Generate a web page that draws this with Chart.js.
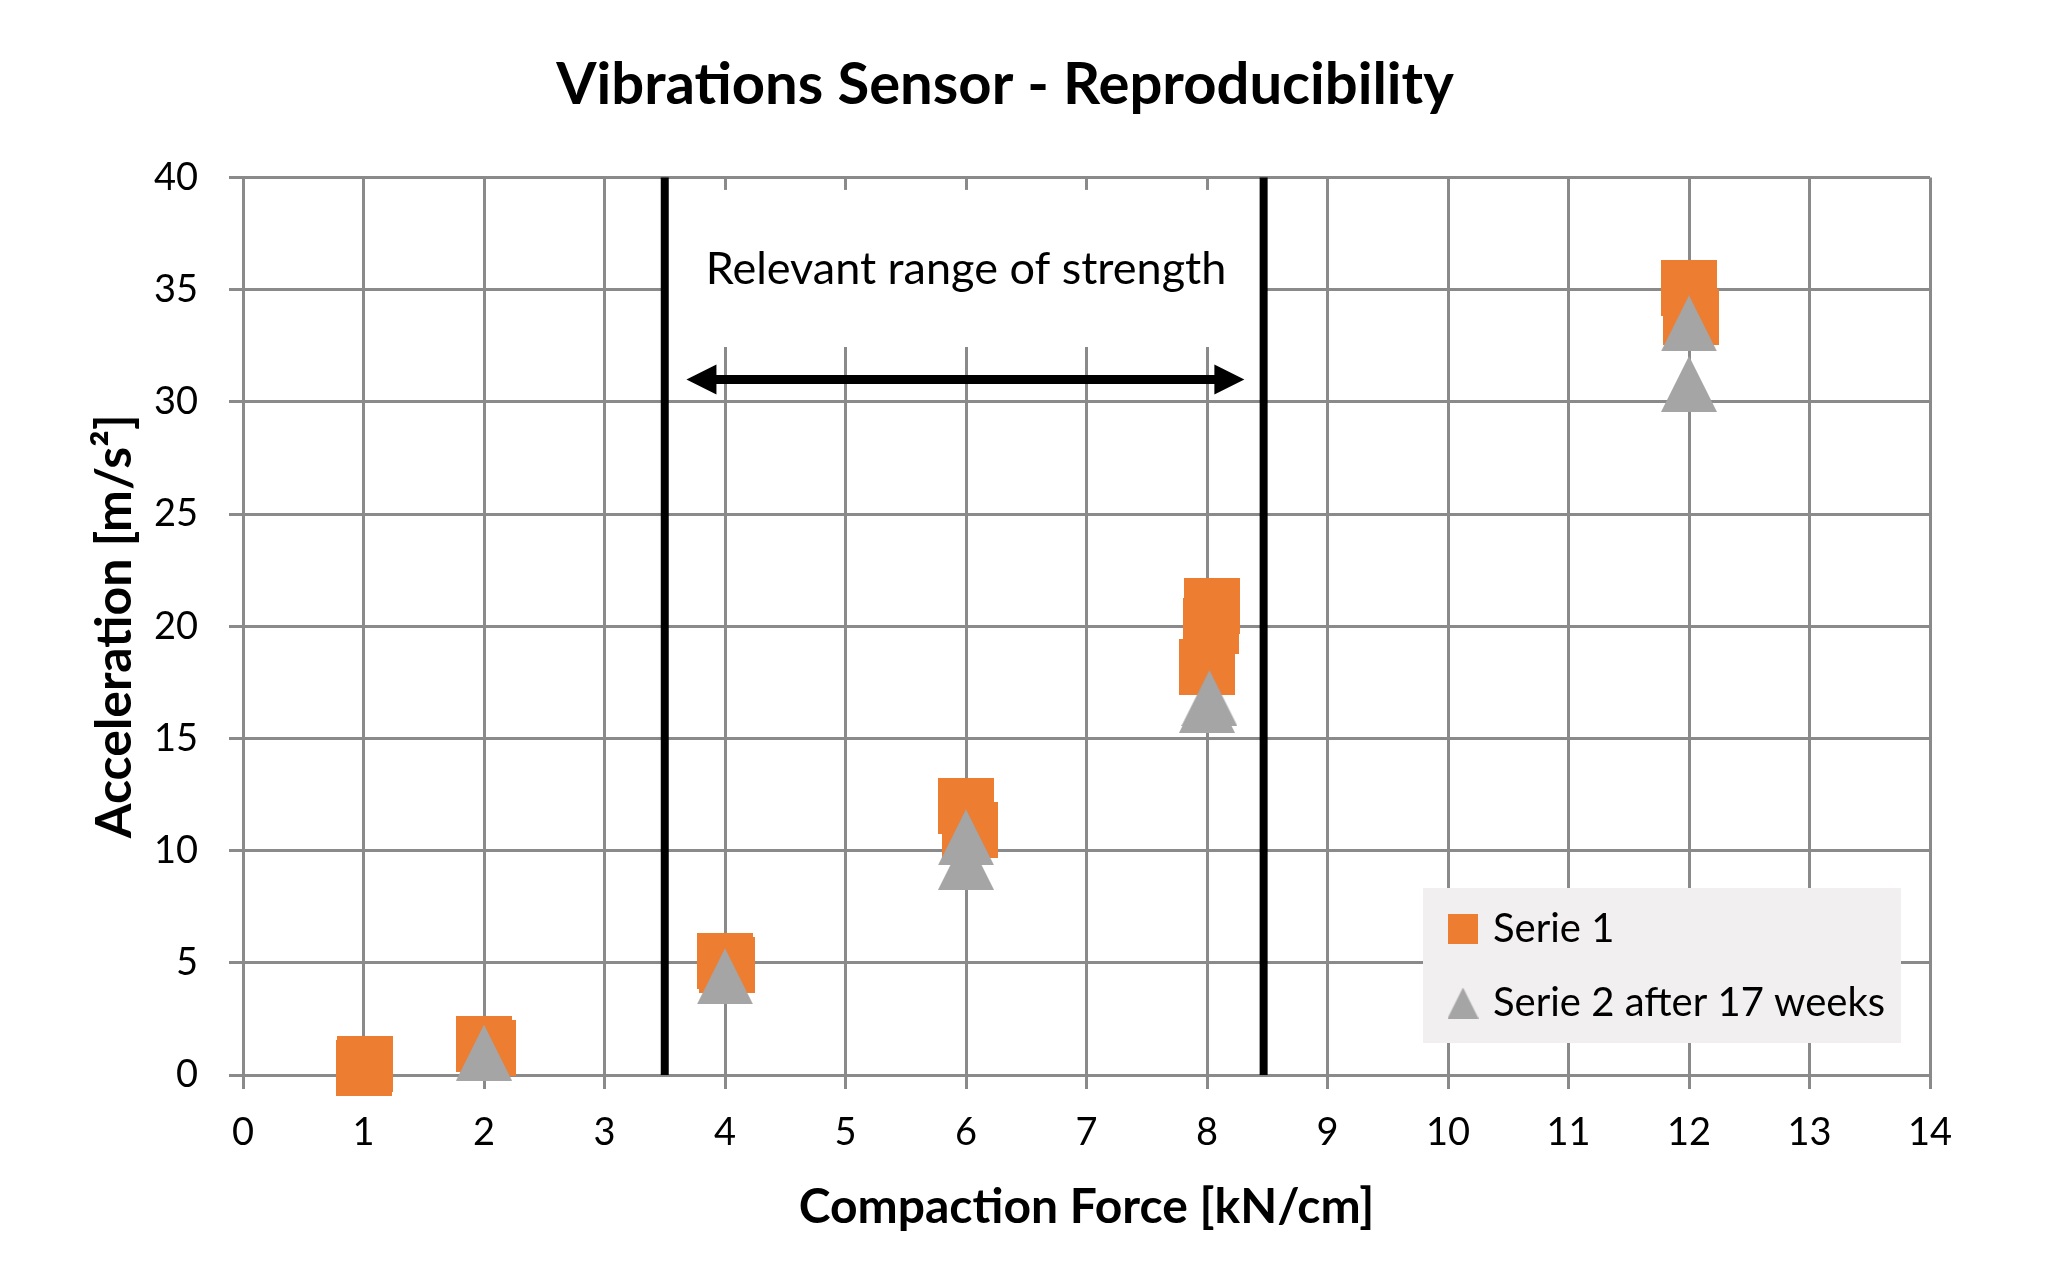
<!DOCTYPE html>
<html>
<head>
<meta charset="utf-8">
<script src="https://cdn.jsdelivr.net/npm/chart.js@4.4.1/dist/chart.umd.min.js"></script>
<style>
html, body { margin: 0; padding: 0; background: #fff; }
#wrap { width: 2048px; height: 1283px; }
</style>
</head>
<body>
<div id="wrap"><canvas id="chart" width="2048" height="1283"></canvas></div>
<script>
// Данные ---------------------------------------------------------------------------------------------------------------
var serie1X = [1, 1.01, 2, 2.03, 4, 4.02, 6, 6.03, 8.04, 8.03, 8.0, 12, 12.02];
var serie1Y = [0.3, 0.5, 1.4, 1.2, 5.1, 4.9, 12.0, 10.9, 20.9, 20.0, 18.2, 35.1, 33.8];
var serie2X = [2, 4, 6, 6, 8.02, 8.0, 12, 12];
var serie2Y = [1.0, 4.4, 10.6, 9.5, 16.8, 16.5, 33.5, 30.8];
var seriesNames = ['Serie 1', 'Serie 2 after 17 weeks'];
var xTicks = [0, 1, 2, 3, 4, 5, 6, 7, 8, 9, 10, 11, 12, 13, 14];
var yTicks = [0, 5, 10, 15, 20, 25, 30, 35, 40];

// Область "Relevant range of strength"
var rangeBounds = [3.5, 8.47];
var arrowX = [3.68, 8.31];
var arrowY = [31];
var rangeLabel = 'Relevant range of strength';
var rangeLabelPos = [6, 35.9];
var rangeLabelBox = [32.45, 39.45];

var ORANGE = '#ED7D31';
var GREY = '#A5A5A5';
var GRID = '#8a8a8a';
var FONT = 'Lato';

// Маркеры как в Excel --------------------------------------------------------------------------------------------------
function squareMarker(size, color) {
    var c = document.createElement('canvas');
    c.width = size; c.height = size;
    var g = c.getContext('2d');
    g.fillStyle = color;
    g.fillRect(0, 0, size, size);
    return c;
}
function triangleMarker(w, h, color) {
    var c = document.createElement('canvas');
    c.width = w; c.height = h;
    var g = c.getContext('2d');
    g.fillStyle = color;
    g.beginPath();
    g.moveTo(w / 2, 0);
    g.lineTo(w, h);
    g.lineTo(0, h);
    g.closePath();
    g.fill();
    return c;
}
var sq = squareMarker(56, ORANGE);
var tri = triangleMarker(56, 56, GREY);
var sqSmall = squareMarker(30, ORANGE);
var triSmall = triangleMarker(31, 31, GREY);

function toPoints(xs, ys) {
    return xs.map(function (x, i) { return {x: x, y: ys[i]}; });
}

// Подпись, стрелка, вертикальные линии ---------------------------------------------------------------------------------
var rangePlugin = {
    id: 'range',
    beforeDatasetsDraw: function (chart) {
        var ctx = chart.ctx, xs = chart.scales.x, ys = chart.scales.y;
        var x1 = xs.getPixelForValue(rangeBounds[0]);
        var x2 = xs.getPixelForValue(rangeBounds[1]);
        ctx.save();
        // белый фон под подписью
        ctx.fillStyle = '#fff';
        var bt = ys.getPixelForValue(rangeLabelBox[1]);
        var bb = ys.getPixelForValue(rangeLabelBox[0]);
        ctx.fillRect(x1, bt, x2 - x1, bb - bt);
        // вертикальные линии
        ctx.strokeStyle = '#000';
        ctx.lineWidth = 8;
        [x1, x2].forEach(function (px) {
            ctx.beginPath();
            ctx.moveTo(px, ys.getPixelForValue(yTicks[0]));
            ctx.lineTo(px, ys.getPixelForValue(yTicks[yTicks.length - 1]));
            ctx.stroke();
        });
        // стрелка
        var ax1 = xs.getPixelForValue(arrowX[0]);
        var ax2 = xs.getPixelForValue(arrowX[1]);
        var ay = ys.getPixelForValue(arrowY[0]);
        var head = 30;
        ctx.lineWidth = 9;
        ctx.beginPath();
        ctx.moveTo(ax1 + head - 2, ay);
        ctx.lineTo(ax2 - head + 2, ay);
        ctx.stroke();
        ctx.fillStyle = '#000';
        ctx.beginPath();
        ctx.moveTo(ax1, ay);
        ctx.lineTo(ax1 + head, ay - head / 2);
        ctx.lineTo(ax1 + head, ay + head / 2);
        ctx.closePath();
        ctx.fill();
        ctx.beginPath();
        ctx.moveTo(ax2, ay);
        ctx.lineTo(ax2 - head, ay - head / 2);
        ctx.lineTo(ax2 - head, ay + head / 2);
        ctx.closePath();
        ctx.fill();
        // текст
        ctx.font = '45px ' + FONT;
        ctx.textAlign = 'center';
        ctx.textBaseline = 'middle';
        ctx.fillText(rangeLabel, xs.getPixelForValue(rangeLabelPos[0]), ys.getPixelForValue(rangeLabelPos[1]));
        ctx.restore();
    }
};

// Легенда внутри области графика ---------------------------------------------------------------------------------------
var legendPlugin = {
    id: 'insideLegend',
    afterDraw: function (chart) {
        var ctx = chart.ctx, a = chart.chartArea;
        var right = a.right - 29, top = a.bottom - 32 - 155;
        var left = right - 461;
        ctx.save();
        ctx.fillStyle = '#f1efef';
        ctx.fillRect(left - 17, top, 478, 155);
        var marks = [sqSmall, triSmall];
        var rows = [top + 41, top + 115];
        ctx.font = '40px ' + FONT;
        ctx.fillStyle = '#000';
        ctx.textAlign = 'left';
        ctx.textBaseline = 'middle';
        seriesNames.forEach(function (name, i) {
            var m = marks[i];
            ctx.drawImage(m, left + 23 - m.width / 2, rows[i] - m.height / 2);
            ctx.fillText(name, left + 53, rows[i]);
        });
        ctx.restore();
    }
};

var ctx = document.getElementById('chart').getContext('2d');
var chart = new Chart(ctx, {
    type: 'scatter',
    data: {
        datasets: [
            {
                label: seriesNames[0],
                data: toPoints(serie1X, serie1Y),
                pointStyle: sq,
                pointRadius: 28,
                pointHoverRadius: 28,
                backgroundColor: ORANGE,
                borderColor: ORANGE,
                clip: false,
                order: 1
            },
            {
                label: seriesNames[1],
                data: toPoints(serie2X, serie2Y),
                pointStyle: tri,
                pointRadius: 28,
                pointHoverRadius: 28,
                backgroundColor: GREY,
                borderColor: GREY,
                clip: false,
                order: 0
            }
        ]
    },
    options: {
        responsive: false,
        devicePixelRatio: 1,
        animation: false,
        layout: {padding: {left: 80, right: 118, top: 0, bottom: 0}},
        plugins: {
            legend: {display: false},
            tooltip: {enabled: false},
            title: {
                display: true,
                text: 'Vibrations Sensor - Reproducibility',
                color: '#000',
                font: {family: FONT, size: 58, weight: 'bold', lineHeight: 1.2},
                padding: {top: 50, bottom: 58}
            }
        },
        scales: {
            x: {
                type: 'linear',
                min: xTicks[0],
                max: xTicks[xTicks.length - 1],
                afterBuildTicks: function (s) { s.ticks = xTicks.map(function (v) { return {value: v}; }); },
                afterFit: function (s) { s.height = 208; },
                grid: {color: GRID, lineWidth: 3, tickLength: 14, tickColor: GRID},
                border: {color: GRID, width: 3},
                ticks: {color: '#000', padding: 21, maxRotation: 0, font: {family: FONT, size: 38}},
                title: {
                    display: true,
                    text: 'Compaction Force [kN/cm]',
                    color: '#000',
                    font: {family: FONT, size: 48, weight: 'bold', lineHeight: 1.2},
                    padding: {top: 0, bottom: 47}
                }
            },
            y: {
                type: 'linear',
                min: yTicks[0],
                max: yTicks[yTicks.length - 1],
                afterBuildTicks: function (s) { s.ticks = yTicks.map(function (v) { return {value: v}; }); },
                afterFit: function (s) { s.width = 163; },
                grid: {color: GRID, lineWidth: 3, tickLength: 14, tickColor: GRID},
                border: {color: GRID, width: 3},
                ticks: {color: '#000', padding: 31, font: {family: FONT, size: 38}},
                title: {
                    display: true,
                    text: 'Acceleration [m/s²]',
                    color: '#000',
                    font: {family: FONT, size: 50, weight: 'bold', lineHeight: 1.2},
                    padding: {top: 5, bottom: 0}
                }
            }
        }
    },
    plugins: [rangePlugin, legendPlugin]
});
</script>
</body>
</html>
